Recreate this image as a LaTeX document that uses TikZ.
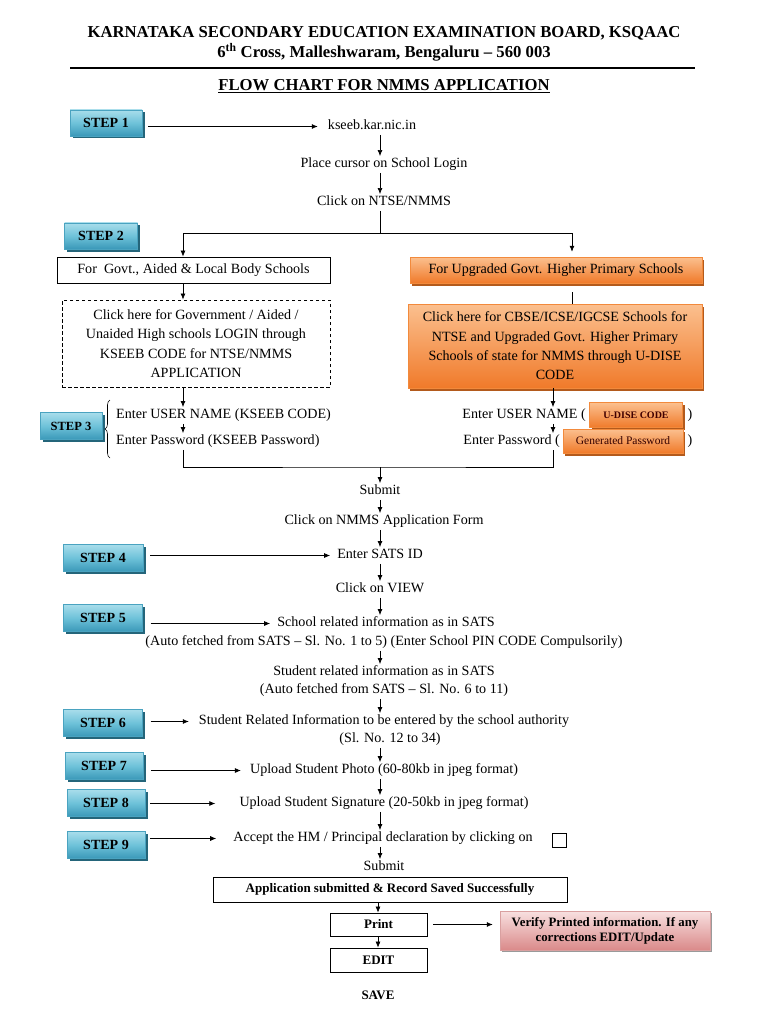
\documentclass[tikz,border=0pt]{standalone}
\usepackage{fontspec}
\setmainfont{Liberation Serif}
\usetikzlibrary{shadows,arrows.meta,decorations.pathreplacing,calc}
\definecolor{stepT}{HTML}{A8DDEB}
\definecolor{stepM}{HTML}{6EC2D9}
\definecolor{stepB}{HTML}{3A98B8}
\definecolor{stepD}{HTML}{4AA3C0}
\definecolor{stepS}{HTML}{24657A}
\definecolor{orT}{HTML}{FBC08F}
\definecolor{orB}{HTML}{F07A2A}
\definecolor{orD}{HTML}{F28A3C}
\definecolor{orS}{HTML}{B35A1C}
\definecolor{pkT}{HTML}{F8E0E0}
\definecolor{pkB}{HTML}{DA8A8A}
\definecolor{pkD}{HTML}{D9A0A0}
\definecolor{pkS}{HTML}{9A9A9A}
\begin{document}
\begin{tikzpicture}[x=1pt,y=-1pt,
  every node/.style={inner sep=0pt},
  body/.style={font=\fontsize{14.1}{16.5}\selectfont, text height=9.5pt, text depth=3pt, inner sep=2pt, yshift=-1.5pt},
  arr/.style={-{Latex[length=6pt,width=5pt]}, line width=0.7pt},
  ln/.style={line width=0.7pt},
  stepbox/.style={minimum width=78pt, minimum height=27pt, top color=stepT, bottom color=stepB, middle color=stepM, draw=stepD, line width=0.4pt, font=\bfseries\fontsize{14}{16}\selectfont, general shadow={fill=stepS, shadow xshift=2.5pt, shadow yshift=-2.5pt}},
  orbox/.style={top color=orT, bottom color=orB, draw=orD, line width=0.5pt, general shadow={fill=orS, shadow xshift=2pt, shadow yshift=-2.5pt}},
  plainbox/.style={draw=black, line width=0.8pt, fill=white},
  hd/.style={font=\bfseries\fontsize{16.7}{19}\selectfont, yshift=-1.5pt},
  bb/.style={font=\bfseries\fontsize{13}{15}\selectfont},
]
\useasboundingbox (0,0) rectangle (768,1024);
\fill[white] (0,0) rectangle (768,1024);

% header
\node[hd] (h1) at (384,32) {KARNATAKA SECONDARY EDUCATION EXAMINATION BOARD, KSQAAC};
\node[hd] (h2) at (384,51) {6\textsuperscript{th} Cross, Malleshwaram, Bengaluru – 560 003};
\draw[line width=1.5pt] (70,68) -- (695,68);
\node[hd] (h3) at (384,85) {\underline{FLOW CHART FOR NMMS APPLICATION}};

\coordinate (sp) at (380,0);
\coordinate (lx) at (183,0);
\coordinate (rx) at (553,0);
\coordinate (ox) at (572,0);

% step 1
\node[stepbox, minimum width=72pt, minimum height=26pt] (s1) at (106,123) {STEP 1};
\node[body] (kseeb) at (372,125) {kseeb.kar.nic.in};
\node[body] (cursor) at (384,163) {Place cursor on School Login};
\node[body] (ntse) at (384,201) {Click on NTSE/NMMS};
\draw[arr, shorten <=6pt, shorten >=8pt] (s1.east |- kseeb) -- (kseeb.west);
\draw[arr] (kseeb.south -| sp) -- (cursor.north -| sp);
\draw[arr] (cursor.south -| sp) -- (ntse.north -| sp);

% step 2
\node[stepbox, minimum width=73pt, minimum height=26pt] (s2) at (101,236) {STEP 2};
\coordinate (br) at (380,233);
\node[plainbox, body, yshift=1.5pt, minimum width=273pt, minimum height=26pt] (lb) at (193.5,270) {For\ \ Govt., Aided \& Local Body Schools};
\node[orbox, body, yshift=1.5pt, minimum width=292pt, minimum height=26pt] (ob1) at (556,270) {For Upgraded Govt. Higher Primary Schools};
\draw[ln] (ntse.south -| sp) -- (br);
\draw[arr] (br) -| (lb.north -| lx);
\draw[arr] (br) -| ($(ob1.north -| ox)+(0,-5)$);
\node[draw=black, line width=0.9pt, dash pattern=on 3.5pt off 2.5pt, minimum width=268pt, minimum height=87pt, align=center, font=\fontsize{14.1}{19.3}\selectfont] (db) at (196,343.5) {Click here for Government / Aided /\\Unaided High schools LOGIN through\\KSEEB CODE for NTSE/NMMS\\APPLICATION};
\draw[arr] (lb.south -| lx) -- (db.north -| lx);
\node[orbox, minimum width=294pt, minimum height=84pt, align=center, font=\fontsize{14.1}{19.3}\selectfont] (ob2) at (555,346) {Click here for CBSE/ICSE/IGCSE Schools for\\NTSE and Upgraded Govt. Higher Primary\\Schools of state for NMMS through U-DISE\\CODE};
\draw[ln] ($(ob1.south -| ox)+(0,9)$) -- (ob2.north -| ox);

% step 3
\node[stepbox, minimum width=62pt, minimum height=27pt, font=\bfseries\fontsize{12.5}{14}\selectfont] (s3) at (71,426) {STEP 3};
\draw[line width=0.6pt, decorate, decoration={brace, amplitude=5pt}] (110,458) -- (110,400);
\node[body, anchor=west] (user1) at (114,414) {Enter USER NAME (KSEEB CODE)};
\node[body, anchor=west] (pass1) at (114,440) {Enter Password (KSEEB Password)};
\node[body, anchor=east] (user2) at (588,414) {Enter USER NAME (};
\node[orbox, minimum width=93pt, minimum height=25pt, font=\bfseries\fontsize{10}{11}\selectfont, text=black!75!red] (udise) at (636,415) {U-DISE CODE};
\node[body] (par1) at (690,414) {)};
\node[body, anchor=east] (pass2) at (562,440) {Enter Password (};
\node[orbox, minimum width=120pt, minimum height=24pt, font=\fontsize{11.5}{13}\selectfont, text=black!80!red] (gen) at (623,441) {Generated Password};
\node[body] (par2) at (690,440) {)};
\coordinate (join) at (380,467);
\draw[arr] (db.south -| lx) -- (user1.north -| lx);
\draw[arr] (user1.south -| lx) -- (pass1.north -| lx);
\draw[arr] (ob2.south -| rx) -- (user2.north -| rx);
\draw[arr] (user2.south -| rx) -- (pass2.north -| rx);
\draw[ln] (pass1.south -| lx) |- (join) -| (pass2.south -| rx);

\node[body] (sub1) at (380,490) {Submit};
\node[body] (form) at (384,520) {Click on NMMS Application Form};
\draw[arr] (join) -- (sub1.north -| sp);
\draw[arr] (sub1.south -| sp) -- (form.north -| sp);

% step 4
\node[stepbox, minimum width=80pt] (s4) at (103,558) {STEP 4};
\node[body] (sats) at (380,554) {Enter SATS ID};
\draw[arr, shorten <=7pt, shorten >=5pt] (s4.east |- sats) -- (sats.west);
\draw[arr] (form.south -| sp) -- (sats.north -| sp);
\node[body] (view) at (380,588) {Click on VIEW};
\draw[arr] (sats.south -| sp) -- (view.north -| sp);

% step 5
\node[stepbox, minimum width=79pt] (s5) at (103,618) {STEP 5};
\node[body] (sch1) at (386,622) {School related information as in SATS};
\node[body] (sch2) at (384,641) {(Auto fetched from SATS – Sl. No. 1 to 5) (Enter School PIN CODE Compulsorily)};
\draw[arr, shorten <=8pt, shorten >=5pt] (s5.east |- sch1) -- (sch1.west);
\draw[arr] (view.south -| sp) -- (sch1.north -| sp);
\node[body] (stu1) at (384,671) {Student related information as in SATS};
\node[body] (stu2) at (384,689) {(Auto fetched from SATS – Sl. No. 6 to 11)};
\draw[arr] (sch2.south -| sp) -- (stu1.north -| sp);

% step 6
\node[stepbox, minimum width=79pt] (s6) at (103,723) {STEP 6};
\node[body] (rel1) at (384,720) {Student Related Information to be entered by the school authority};
\node[body] (rel2) at (390,738) {(Sl. No. 12 to 34)};
\draw[arr, shorten <=8pt, shorten >=8pt] (s6.east |- rel1) -- (rel1.west);
\draw[arr] (stu2.south -| sp) -- (rel1.north -| sp);

% step 7
\node[stepbox, minimum width=78pt] (s7) at (104,766) {STEP 7};
\node[body] (photo) at (384,769) {Upload Student Photo (60-80kb in jpeg format)};
\draw[arr, shorten <=8pt, shorten >=7pt] (s7.east |- photo) -- (photo.west);
\draw[arr] (rel2.south -| sp) -- (photo.north -| sp);

% step 8
\node[stepbox, minimum width=78pt] (s8) at (106,803) {STEP 8};
\node[body] (sig) at (384,802) {Upload Student Signature (20-50kb in jpeg format)};
\draw[arr, shorten <=5pt, shorten >=22pt] (s8.east |- sig) -- (sig.west);
\draw[arr] (photo.south -| sp) -- (sig.north -| sp);

% step 9
\node[stepbox, minimum width=78pt] (s9) at (106,845) {STEP 9};
\node[body] (acc) at (383,837) {Accept the HM / Principal declaration by clicking on};
\node[draw=black, line width=0.8pt, minimum width=14pt, minimum height=14pt] (chk) at (559,840) {};
\draw[arr, shorten <=5pt, shorten >=15pt] (s9.east |- acc) -- (acc.west);
\draw[arr] (sig.south -| sp) -- (acc.north -| sp);

\node[body] (sub2) at (384,866) {Submit};
\draw[arr] (acc.south -| sp) -- (sub2.north -| sp);

% final
\node[plainbox, bb, minimum width=354pt, minimum height=25pt] (app) at (390,889.5) {Application submitted \& Record Saved Successfully};
\coordinate (px) at (378,0);
\node[plainbox, bb, minimum width=97pt, minimum height=23pt] (print) at (378.5,924.5) {Print};
\node[plainbox, bb, minimum width=97pt, minimum height=24pt] (edit) at (378.5,960) {EDIT};
\node[bb] (save) at (378,995) {SAVE};
\draw[arr] (app.south -| px) -- (print.north -| px);
\draw[arr] (print.south -| px) -- (edit.north -| px);
\node[top color=pkT, bottom color=pkB, draw=pkD, line width=0.5pt, general shadow={fill=pkS, shadow xshift=1.5pt, shadow yshift=-2pt}, minimum width=210pt, minimum height=39pt, align=center, font=\bfseries\fontsize{12.8}{15}\selectfont] (pink) at (605,930.5) {Verify Printed information. If any\\corrections EDIT/Update};
\draw[arr, shorten <=6pt, shorten >=7pt] (print.east) -- (print.east -| pink.west);
\end{tikzpicture}
\end{document}
